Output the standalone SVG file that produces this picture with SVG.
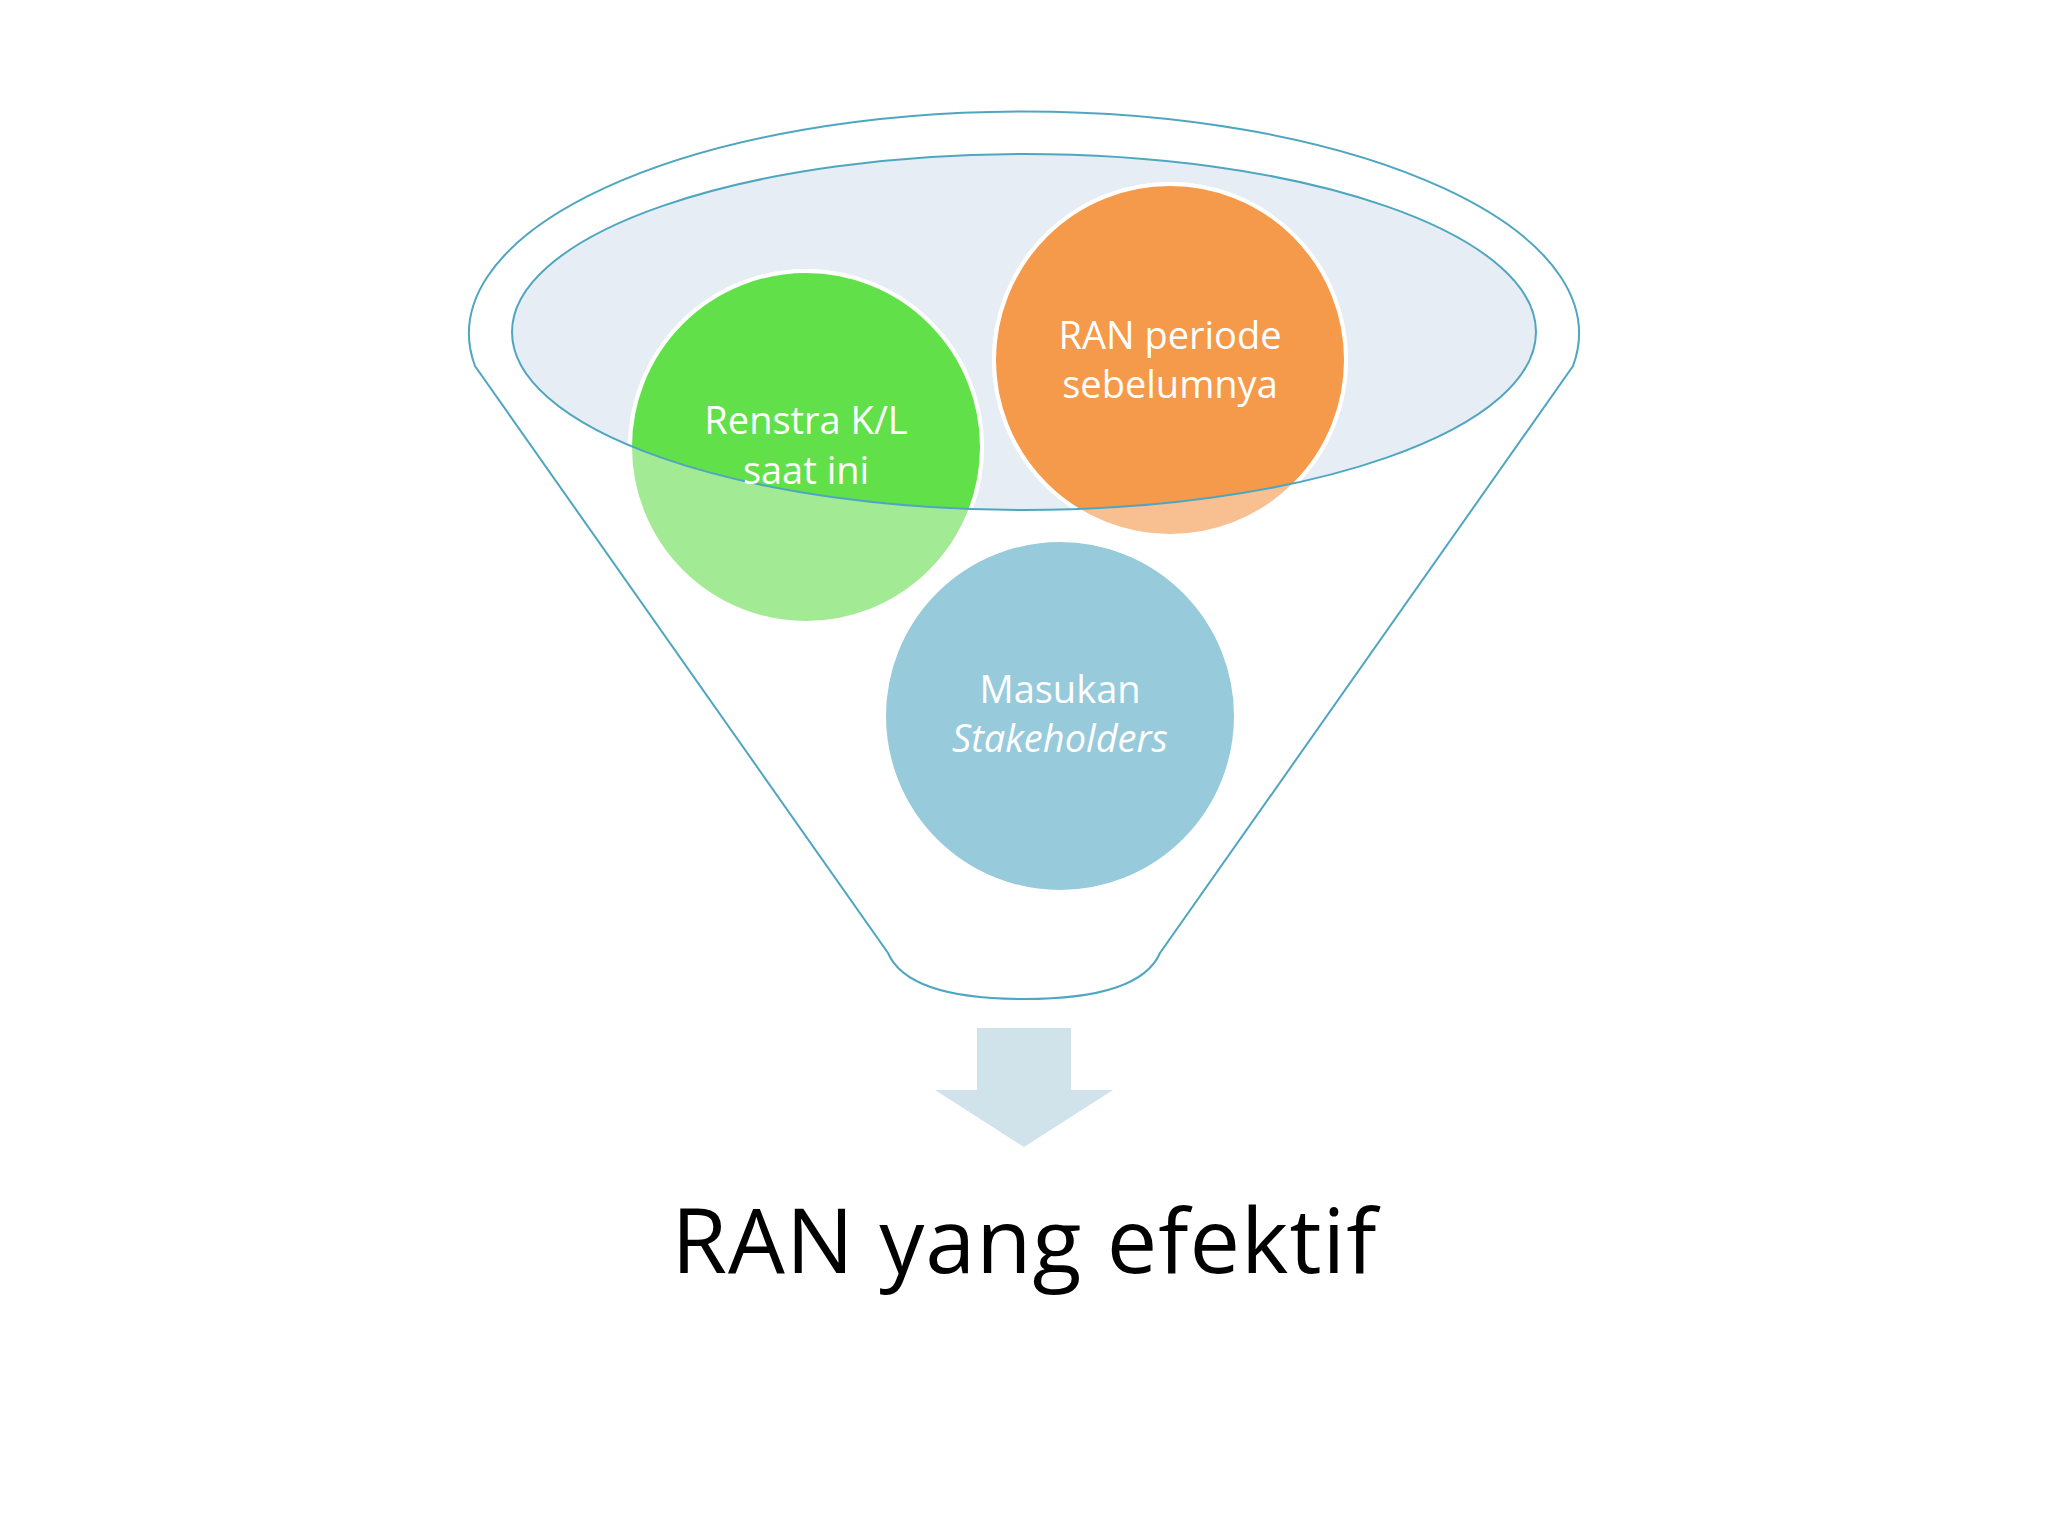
<svg xmlns="http://www.w3.org/2000/svg" width="2048" height="1536" viewBox="0 0 2048 1536">
<style>
.l{font-family:"Open Sans","Liberation Sans",sans-serif;font-size:38px;fill:#fff;text-anchor:middle}
.fun{fill:none;stroke:#4fa6c0;stroke-width:2}
</style>
<defs><clipPath id="cp"><ellipse cx="1024" cy="332" rx="512" ry="178"/></clipPath></defs>
<rect width="2048" height="1536" fill="#fff"/>
<g id="funnel">
<path class="fun" d="M475,366 A555,222 0 1 1 1573,366 L1160,953 Q1140,999 1024,999 Q908,999 888,953 Z"/>
<ellipse cx="1024" cy="332" rx="512" ry="178" fill="#e6edf5"/>
</g>
<g id="n1"><circle cx="806" cy="447" r="176" fill="#a3ea94" stroke="#fff" stroke-width="4"/></g>
<g id="n2"><circle cx="1170" cy="360" r="176" fill="#f8c090" stroke="#fff" stroke-width="4"/></g>
<g id="n3"><circle cx="1060" cy="716" r="176" fill="#97cbdc" stroke="#fff" stroke-width="4"/></g>
<g clip-path="url(#cp)">
<circle cx="806" cy="447" r="176" fill="#62e04a" stroke="#fff" stroke-width="4"/>
<circle cx="1170" cy="360" r="176" fill="#f5994a" stroke="#fff" stroke-width="4"/>
</g>
<ellipse cx="1024" cy="332" rx="512" ry="178" fill="none" stroke="#4fa6c0" stroke-width="2"/>
<text class="l" x="806" y="434">Renstra K/L</text>
<text class="l" x="806" y="484">saat ini</text>
<text class="l" x="1170" y="349">RAN periode</text>
<text class="l" x="1170" y="398">sebelumnya</text>
<text class="l" x="1060" y="703">Masukan</text>
<text class="l" x="1060" y="752" font-style="italic">Stakeholders</text>
<g id="connectors"><path d="M977,1028 H1071 V1090 H1113 L1024,1147 L935,1090 H977 Z" fill="#d0e2ea"/></g>
<text x="1024" y="1273" font-family="'Open Sans','Liberation Sans',sans-serif" font-size="90" fill="#000" text-anchor="middle" textLength="705">RAN yang efektif</text>
</svg>
